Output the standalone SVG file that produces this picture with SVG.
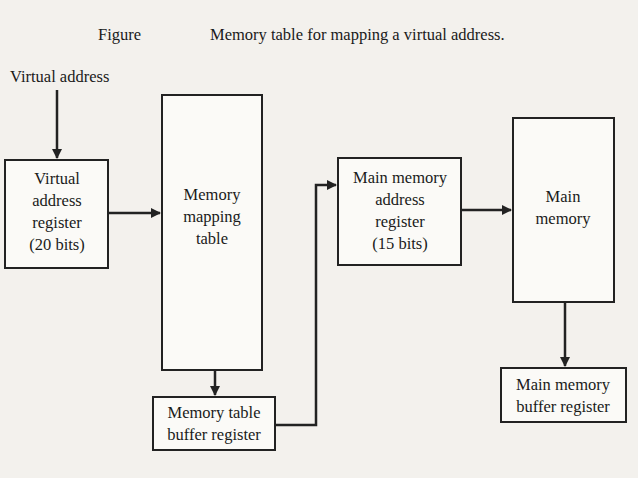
<svg xmlns="http://www.w3.org/2000/svg" width="638" height="478" viewBox="0 0 638 478">
<defs>
<style>
.b{fill:#fbfaf7;stroke:#222;stroke-width:2}
.t{font-family:"Liberation Serif",serif;font-size:16.5px;fill:#1a1a1a;text-anchor:middle}
.l{font-family:"Liberation Serif",serif;font-size:16.5px;fill:#1a1a1a}
.c{fill:none;stroke:#222;stroke-width:2.5}
</style>
<marker id="a" viewBox="0 0 10 10" refX="9" refY="5" markerWidth="4" markerHeight="4" orient="auto"><path d="M0,0L10,5L0,10z" fill="#222"/></marker>
</defs>
<rect width="638" height="478" fill="#f3f1ed"/>
<text class="l" x="98" y="40">Figure</text>
<text class="l" x="210" y="40">Memory table for mapping a virtual address.</text>
<text class="l" x="10" y="82">Virtual address</text>
<g id="var"><rect class="b" x="5" y="160" width="103" height="108"/>
<text class="t" x="57" y="184">Virtual</text><text class="t" x="57" y="206">address</text><text class="t" x="57" y="228">register</text><text class="t" x="57" y="250">(20 bits)</text></g>
<g id="mmt"><rect class="b" x="162" y="95" width="100" height="275"/>
<text class="t" x="212" y="200">Memory</text><text class="t" x="212" y="222">mapping</text><text class="t" x="212" y="244">table</text></g>
<g id="mtbr"><rect class="b" x="153" y="397" width="122" height="53"/>
<text class="t" x="214" y="418">Memory table</text><text class="t" x="214" y="440">buffer register</text></g>
<g id="mmar"><rect class="b" x="338" y="158" width="123" height="107"/>
<text class="t" x="400" y="183">Main memory</text><text class="t" x="400" y="205">address</text><text class="t" x="400" y="227">register</text><text class="t" x="400" y="249">(15 bits)</text></g>
<g id="mm"><rect class="b" x="513" y="118" width="101" height="184"/>
<text class="t" x="563" y="202">Main</text><text class="t" x="563" y="224">memory</text></g>
<g id="mmbr"><rect class="b" x="501" y="368" width="125" height="54"/>
<text class="t" x="563" y="390">Main memory</text><text class="t" x="563" y="412">buffer register</text></g>
<g id="connectors">
<path class="c" d="M57,90V158" marker-end="url(#a)"/>
<path class="c" d="M108,213H160" marker-end="url(#a)"/>
<path class="c" d="M215,370V395" marker-end="url(#a)"/>
<path class="c" d="M275,425H316V185H336" marker-end="url(#a)"/>
<path class="c" d="M461,210H511" marker-end="url(#a)"/>
<path class="c" d="M565,302V366" marker-end="url(#a)"/>
</g>
</svg>
